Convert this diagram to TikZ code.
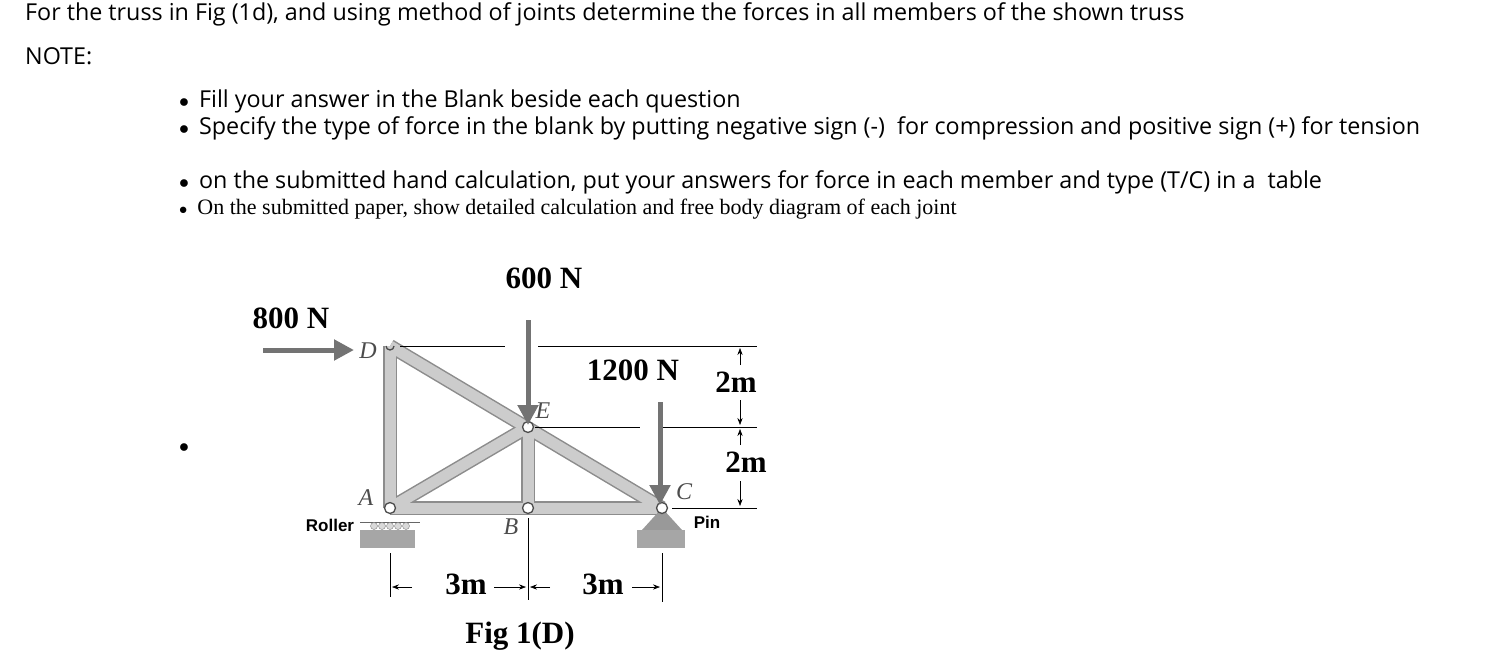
\documentclass[tikz,border=0pt]{standalone}
\usepackage{fontspec}
\setmainfont{Liberation Serif}
\newfontfamily\os{Open Sans}
\newfontfamily\ls{Liberation Sans}
\usetikzlibrary{arrows.meta}
\begin{document}
\begin{tikzpicture}[x=1pt,y=-1pt,
  txt/.style={anchor=base west,inner sep=0,font=\os\fontsize{23.3}{26}\selectfont},
  lbl/.style={inner sep=0,font=\bfseries\fontsize{31}{34}\selectfont},
  let/.style={inner sep=0,font=\itshape\fontsize{24}{26}\selectfont,text=black!70},
  mem/.style={line width=14pt,draw=black!45},
  memin/.style={line width=11pt,draw=black!20},
  load/.style={line width=5pt,draw=black!55,-{Triangle[length=20pt,width=20pt]}},
  dim/.style={line width=0.8pt},
  dima/.style={line width=0.6pt,-{Stealth[length=7pt]}},
  jt/.style={circle,draw=black!70,fill=white,line width=1.3pt,inner sep=0,minimum size=11pt}]
\useasboundingbox (0,0) rectangle (1493,670);
\node[txt] (t1) at (25,20) {For the truss in Fig (1d), and using method of joints determine the forces in all members of the shown truss};
\node[txt] (t2) at (25,64) {NOTE:};
\foreach \y/\s in {107/{Fill your answer in the Blank beside each question},134/{Specify the type of force in the blank by putting negative sign (-)\ \ for compression and positive sign (+) for tension},188/{on the submitted hand calculation, put your answers for force in each member and type (T/C) in a\ \ table}}
  {\node[txt] at (179,\y) {\scalebox{0.8}{$\bullet$}\hspace{10pt}\s};}
\node[txt,font=\fontsize{22}{24}\selectfont] (t6) at (179,214) {\scalebox{0.8}{$\bullet$}\hspace{10pt}On the submitted paper, show detailed calculation and free body diagram of each joint};
\node[txt] (t7) at (179,452) {\scalebox{0.8}{$\bullet$}};
% joints
\coordinate (A) at (390,508); \coordinate (B) at (528,508);
\coordinate (C) at (662,508); \coordinate (E) at (528,427); \coordinate (D) at (390,346);
\foreach \p/\q in {A/D,D/C,A/E,E/B,A/C}{\draw[mem] (\p)--(\q);}
\foreach \p/\q in {A/D,D/C,A/E,E/B,A/C}{\draw[memin] (\p)--(\q);}
% supports
\fill[black!35] (360,530) rectangle (415,548);
\draw[black!60] (360,522)--(420,522);
\foreach \x in {374,382,390,398,406}{\draw[black!50,fill=black!15] (\x,526) circle (3.5pt);}
\fill[black!40] (662,508)--(642,530)--(682,530)--cycle;
\fill[black!35] (637,530) rectangle (685,548);
\foreach \p in {A,B,C,E}{\node[jt] at (\p) {};}
\draw[black!70,line width=1.3pt] ([xshift=-4pt]D) arc[start angle=180,end angle=360,radius=4pt];
% dimension lines
\draw[dim] (400,346)--(505,346); \draw[dim] (538,346)--(757,346);
\draw[dim] (535,427)--(640,427); \draw[dim] (658,427)--(757,427);
\draw[dim] (672,508)--(757,508);
\node[lbl] (d1) at (736,382) {2m};
\node[lbl] (d2) at (746,462) {2m};
\draw[dima] (740,365)--(740,348); \draw[dima] (740,400)--(740,425);
\draw[dima] (740,445)--(740,429); \draw[dima] (740,481)--(740,506);
\draw[dim] (390,553)--(390,597); \draw[dim] (528,518)--(528,600); \draw[dim] (662,553)--(662,602);
\node[lbl] (w1) at (466,584) {3m}; \node[lbl] (w2) at (603,584) {3m};
\draw[dima] (412,587)--(392,587); \draw[dima] (494,587)--(526,587);
\draw[dima] (550,587)--(530,587); \draw[dima] (632,587)--(660,587);
% loads
\draw[load] (528,320)--(528,425);
\draw[load] (660,402)--(660,505);
\draw[load] (263,350)--(354,350);
\node[lbl] (f1) at (544,278) {600 N};
\node[lbl] (f2) at (633,370) {1200 N};
\node[lbl] (f3) at (291,318) {800 N};
\node[let] (lD) at (368,351) {D};
\node[let] (lE) at (543,411) {E};
\node[let] (lA) at (366,498) {A};
\node[let] (lC) at (684,492) {C};
\node[let] (lB) at (511,527) {B};
\node[inner sep=0,font=\ls\bfseries\fontsize{17}{19}\selectfont] (ro) at (330,525) {Roller};
\node[inner sep=0,font=\ls\bfseries\fontsize{17}{19}\selectfont] (pi) at (707,522) {Pin};
\node[lbl] (fig) at (520,636) {Fig 1(D)};
\end{tikzpicture}
\end{document}
